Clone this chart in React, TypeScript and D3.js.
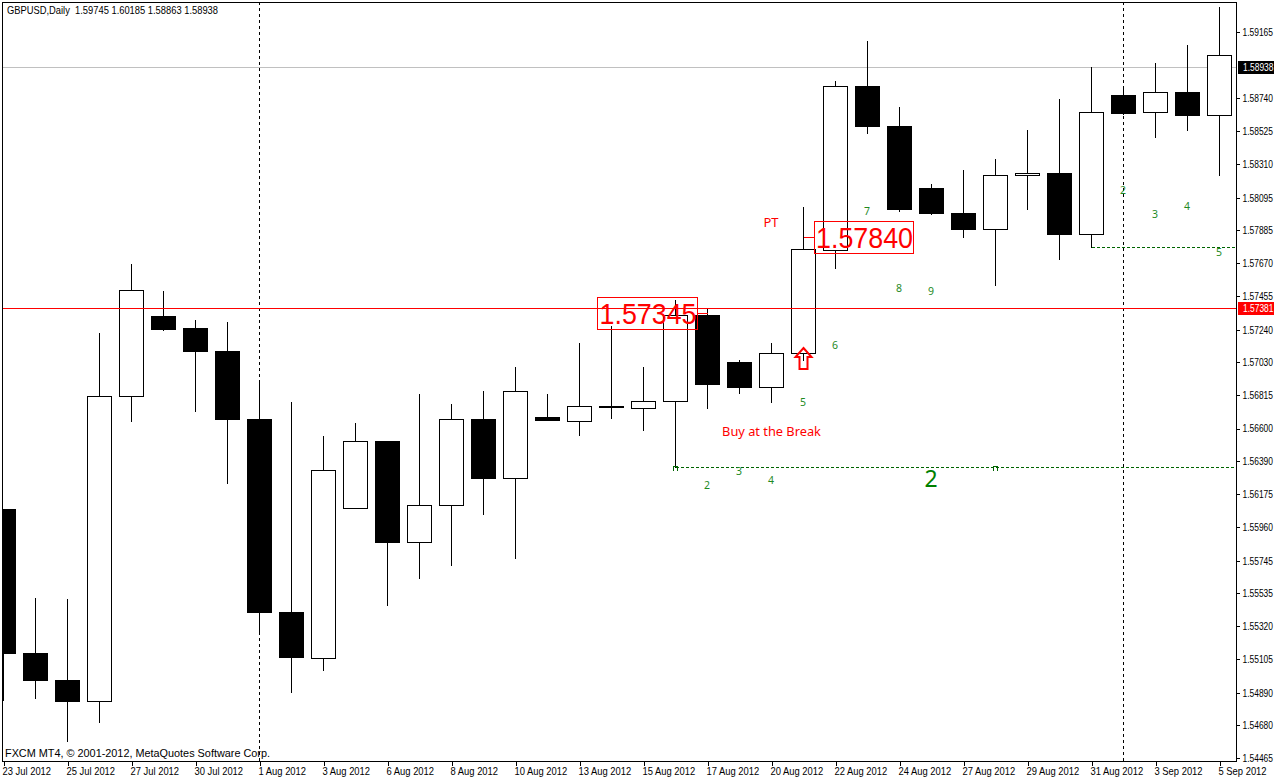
import React, { useEffect, useRef } from 'react';
import * as d3 from 'd3';

const width = 1274;
const height = 778;

const dates = [
  '23 Jul 2012', '24 Jul 2012', '25 Jul 2012', '26 Jul 2012', '27 Jul 2012', '29 Jul 2012', '30 Jul 2012', '31 Jul 2012',
  '1 Aug 2012', '2 Aug 2012', '3 Aug 2012', '5 Aug 2012', '6 Aug 2012', '7 Aug 2012', '8 Aug 2012', '9 Aug 2012',
  '10 Aug 2012', '12 Aug 2012', '13 Aug 2012', '14 Aug 2012', '15 Aug 2012', '16 Aug 2012', '17 Aug 2012', '19 Aug 2012',
  '20 Aug 2012', '21 Aug 2012', '22 Aug 2012', '23 Aug 2012', '24 Aug 2012', '26 Aug 2012', '27 Aug 2012', '28 Aug 2012',
  '29 Aug 2012', '30 Aug 2012', '31 Aug 2012', '2 Sep 2012', '3 Sep 2012', '4 Sep 2012', '5 Sep 2012',
];
const opens = [
  1.56079, 1.55147, 1.54972, 1.54836, 1.5681, 1.57328, 1.57251, 1.57102,
  1.56661, 1.55412, 1.55114, 1.56085, 1.56519, 1.55865, 1.56105, 1.56661,
  1.56279, 1.56674, 1.56649, 1.56746, 1.56733, 1.56778, 1.57335, 1.57031,
  1.56869, 1.57089, 1.57756, 1.58817, 1.58558, 1.58157, 1.57995, 1.57892,
  1.58241, 1.58254, 1.57859, 1.58759, 1.58649, 1.58778, 1.5863,
];
const highs = [
  1.56085, 1.55509, 1.55503, 1.57225, 1.57671, 1.57497, 1.57309, 1.57296,
  1.56914, 1.56778, 1.56558, 1.56642, 1.56519, 1.5683, 1.56765, 1.56849,
  1.57005, 1.5683, 1.5716, 1.5727, 1.57005, 1.57438, 1.5738, 1.5705,
  1.5716, 1.5804, 1.58856, 1.59115, 1.58688, 1.58189, 1.5828, 1.58351,
  1.58539, 1.5874, 1.58947, 1.58817, 1.58973, 1.59089, 1.59335,
];
const lows = [
  1.54842, 1.54855, 1.54577, 1.547, 1.56649, 1.57238, 1.56713, 1.56247,
  1.5527, 1.54894, 1.55037, 1.56085, 1.55457, 1.55632, 1.55716, 1.56046,
  1.55762, 1.56655, 1.56558, 1.56668, 1.5659, 1.56351, 1.56733, 1.5683,
  1.56772, 1.57043, 1.57639, 1.58513, 1.58008, 1.57989, 1.5784, 1.57529,
  1.58021, 1.57697, 1.57775, 1.58636, 1.58487, 1.58533, 1.58241,
];
const closes = [
  1.55147, 1.54972, 1.54836, 1.5681, 1.57497, 1.57244, 1.57102, 1.56661,
  1.55412, 1.55121, 1.56331, 1.56519, 1.55865, 1.56105, 1.56661, 1.56279,
  1.56843, 1.56655, 1.56746, 1.56739, 1.56778, 1.57335, 1.56888, 1.56869,
  1.57089, 1.57762, 1.58817, 1.58558, 1.58021, 1.57995, 1.57892, 1.58241,
  1.58254, 1.57859, 1.58649, 1.58643, 1.58778, 1.5863, 1.59018,
];

const xTickDates = [
  '23 Jul 2012', '25 Jul 2012', '27 Jul 2012', '30 Jul 2012', '1 Aug 2012', '3 Aug 2012', '6 Aug 2012', '8 Aug 2012',
  '10 Aug 2012', '13 Aug 2012', '15 Aug 2012', '17 Aug 2012', '20 Aug 2012', '22 Aug 2012', '24 Aug 2012', '27 Aug 2012',
  '29 Aug 2012', '31 Aug 2012', '3 Sep 2012', '5 Sep 2012',
];
const yTicks = [
  1.59165, 1.5874, 1.58525, 1.5831, 1.58095, 1.57885, 1.5767, 1.57455, 1.5724, 1.5703, 1.56815,
  1.566, 1.5639, 1.56175, 1.5596, 1.55745, 1.55535, 1.5532, 1.55105, 1.5489, 1.5468, 1.54465,
];

const currentPrice = 1.58938;
const redLinePrice = 1.57381;
const separatorDates = ['1 Aug 2012', '2 Sep 2012'];

const waveLabels = ['2', '3', '4', '5', '6', '7', '8', '9', '2', '3', '4', '5'];
const waveDates = [
  '17 Aug 2012', '19 Aug 2012', '20 Aug 2012', '21 Aug 2012', '22 Aug 2012', '23 Aug 2012', '24 Aug 2012', '26 Aug 2012',
  '2 Sep 2012', '3 Sep 2012', '4 Sep 2012', '5 Sep 2012',
];
const wavePrices = [
  1.56234, 1.56325, 1.56266, 1.56772, 1.5714, 1.58008, 1.5751, 1.5749, 1.58144, 1.57989, 1.5804, 1.57743,
];

const FONT = '"Noto Sans", Tahoma, sans-serif';
const SANS = '"Liberation Sans", sans-serif';

export default function App() {
  const svgRef = useRef<SVGSVGElement>(null);

  useEffect(() => {
    if (!svgRef.current) return;
    const svg = d3.select(svgRef.current);
    svg.selectAll('*').remove();

    const left = 2;
    const right = 1236;
    const top = 2;
    const bottom = 761;

    const x = d3.scalePoint<string>().domain(dates).range([3, 1219]);
    const y = d3.scaleLinear().domain([1.59165, 1.54465]).range([32.3, 758.3]);
    const px = (d: string) => (x(d) as number) + 0.5;
    const py = (p: number) => Math.round(y(p)) + 0.5;

    // squeeze text the way the terminal's bitmap font runs narrow
    const squeeze = (sel: any, factor: number) => {
      sel.each(function (this: SVGTextElement) {
        const len = this.getComputedTextLength();
        d3.select(this).attr('textLength', len * factor).attr('lengthAdjust', 'spacingAndGlyphs');
      });
    };

    svg.append('rect').attr('width', width).attr('height', height).attr('fill', '#fff');

    svg.append('defs').append('clipPath').attr('id', 'plot')
      .append('rect').attr('x', left).attr('y', top).attr('width', right - left).attr('height', bottom - top);

    const plot = svg.append('g').attr('clip-path', 'url(#plot)').attr('shape-rendering', 'crispEdges');

    // things behind the candles
    plot.append('line').attr('x1', left).attr('x2', right)
      .attr('y1', py(currentPrice)).attr('y2', py(currentPrice))
      .attr('stroke', '#c0c0c0');

    plot.selectAll('.sep').data(separatorDates).join('line')
      .attr('x1', px).attr('x2', px).attr('y1', top).attr('y2', bottom)
      .attr('stroke', '#000').attr('stroke-dasharray', '3,3');

    // candles
    const idx = d3.range(dates.length);
    plot.selectAll('.wick').data(idx).join('line')
      .attr('x1', (i) => px(dates[i])).attr('x2', (i) => px(dates[i]))
      .attr('y1', (i) => py(highs[i])).attr('y2', (i) => py(lows[i]))
      .attr('stroke', '#000');

    plot.selectAll('.body').data(idx).join('rect')
      .attr('x', (i) => px(dates[i]) - 12)
      .attr('width', 24)
      .attr('y', (i) => py(Math.max(opens[i], closes[i])))
      .attr('height', (i) => py(Math.min(opens[i], closes[i])) - py(Math.max(opens[i], closes[i])))
      .attr('fill', (i) => (closes[i] >= opens[i] ? '#fff' : '#000'))
      .attr('stroke', '#000');

    // red level line
    plot.append('line').attr('x1', left).attr('x2', right)
      .attr('y1', py(redLinePrice)).attr('y2', py(redLinePrice))
      .attr('stroke', '#ff0000');

    // dashed green trend lines
    const greenLines: [string, number][] = [['16 Aug 2012', 1.56351], ['31 Aug 2012', 1.57775]];
    greenLines.forEach(([d, p]) => {
      plot.append('line').attr('x1', px(d)).attr('x2', right)
        .attr('y1', py(p)).attr('y2', py(p))
        .attr('stroke', '#006400').attr('stroke-dasharray', '3,2');
    });
    ['16 Aug 2012', '28 Aug 2012'].forEach((d) => {
      plot.append('path')
        .attr('d', `M${px(d) - 2},${py(1.56351) + 3}V${py(1.56351) - 1}H${px(d) + 2}V${py(1.56351) + 3}`)
        .attr('fill', 'none').attr('stroke', '#006400');
    });

    // boxed price labels
    const boxed: [string, string, number, number, number][] = [
      ['1.57345', '17 Aug 2012', 1.57345, -110, 100],
      ['1.57840', '21 Aug 2012', 1.5784, 11, 99],
    ];
    boxed.forEach(([label, d, p, dx, w]) => {
      const bx = px(d) + dx;
      const by = Math.round(y(p)) - 16 + 0.5;
      plot.append('line').attr('x1', dx < 0 ? bx + w : px(d)).attr('x2', dx < 0 ? px(d) : bx)
        .attr('y1', py(p)).attr('y2', py(p)).attr('stroke', '#ff0000');
      plot.append('rect').attr('x', bx).attr('y', by).attr('width', w).attr('height', 32)
        .attr('fill', 'none').attr('stroke', '#ff0000');
      plot.append('text').attr('x', bx + w / 2 + 0.5).attr('y', by + 26)
        .attr('text-anchor', 'middle')
        .attr('font-family', SANS).attr('font-size', 29)
        .attr('textLength', 97).attr('lengthAdjust', 'spacingAndGlyphs')
        .attr('fill', '#ff0000').attr('shape-rendering', 'auto').text(label);
    });

    // up arrow under the breakout candle
    const ax = px('21 Aug 2012');
    const ay = Math.round(y(1.57095)) - 4;
    plot.append('path')
      .attr('d', `M${ax},${ay}L${ax + 8},${ay + 9}H${ax + 4}V${ay + 21}H${ax - 4}V${ay + 9}H${ax - 8}Z`)
      .attr('fill', 'none').attr('stroke', '#ff0000').attr('stroke-width', 2)
      .attr('shape-rendering', 'auto');

    // wave counts
    const labels = svg.append('g').attr('font-family', FONT).attr('text-anchor', 'middle');
    labels.selectAll('text').data(waveLabels).join('text')
      .attr('x', (_, i) => x(waveDates[i]) as number)
      .attr('y', (_, i) => y(wavePrices[i]) + 4)
      .attr('font-size', 10.5)
      .attr('fill', '#1f8a1f')
      .text((d) => d);

    labels.append('text').attr('x', x('26 Aug 2012') as number).attr('y', y(1.56273) + 8)
      .attr('font-size', 23).attr('fill', '#008000').text('2');

    labels.append('text').attr('x', x('20 Aug 2012') as number).attr('y', y(1.5793) + 4)
      .attr('font-size', 13).attr('fill', '#ff0000').text('PT');

    labels.append('text').attr('x', (x('20 Aug 2012') as number) + 0.5).attr('y', y(1.56577) + 4)
      .attr('font-size', 12.8).attr('fill', '#ff0000').text('Buy at the Break');

    // header and footer text
    svg.append('text').attr('x', 7).attr('y', 14)
      .attr('font-family', SANS).attr('font-size', 10.5).attr('fill', '#000')
      .attr('style', 'white-space: pre')
      .attr('textLength', 211).attr('lengthAdjust', 'spacingAndGlyphs')
      .text('GBPUSD,Daily  1.59745 1.60185 1.58863 1.58938');
    svg.append('text').attr('x', 5).attr('y', 757)
      .attr('font-family', SANS).attr('font-size', 11.5).attr('fill', '#000')
      .attr('textLength', 265).attr('lengthAdjust', 'spacingAndGlyphs')
      .text('FXCM MT4, © 2001-2012, MetaQuotes Software Corp.');

    // frame
    svg.append('rect').attr('x', left + 0.5).attr('y', top + 0.5)
      .attr('width', right - left).attr('height', bottom - top)
      .attr('fill', 'none').attr('stroke', '#000').attr('shape-rendering', 'crispEdges');

    // axes
    const yAxis = d3.axisRight(y).tickValues(yTicks).tickFormat((d) => (d as number).toFixed(5)).tickSize(3).tickPadding(3);
    const yG = svg.append('g').attr('transform', `translate(${right + 0.5},0)`).call(yAxis);
    const xAxis = d3.axisBottom(x).tickValues(xTickDates).tickSize(4).tickPadding(4);
    const xG = svg.append('g').attr('transform', `translate(0.5,${bottom + 0.5})`).call(xAxis);

    [yG, xG].forEach((g) => {
      g.select('.domain').remove();
      g.selectAll('line').attr('stroke', '#000').attr('shape-rendering', 'crispEdges');
      g.selectAll('text').attr('font-family', SANS).attr('font-size', 10.8).attr('fill', '#000');
    });
    xG.selectAll('text').attr('text-anchor', 'start').attr('dx', -1.5).attr('y', 6);
    squeeze(yG.selectAll('text'), 0.78);
    squeeze(xG.selectAll('text'), 0.87);

    // price tags on the axis
    const tags: [number, string][] = [[currentPrice, '#000'], [redLinePrice, '#ff0000']];
    tags.forEach(([p, c]) => {
      const ty = Math.round(y(p));
      svg.append('rect').attr('x', 1238).attr('y', ty - 6).attr('width', 36).attr('height', 13).attr('fill', c);
      const t = svg.append('text').attr('x', 1243).attr('y', ty + 4)
        .attr('font-family', SANS).attr('font-size', 10.8).attr('fill', '#fff').text(p.toFixed(5));
      squeeze(t, 0.78);
    });
  }, []);

  return (
    <svg
      ref={svgRef}
      width={width}
      height={height}
      style={{ position: 'absolute', left: 0, top: 0, display: 'block' }}
    />
  );
}
